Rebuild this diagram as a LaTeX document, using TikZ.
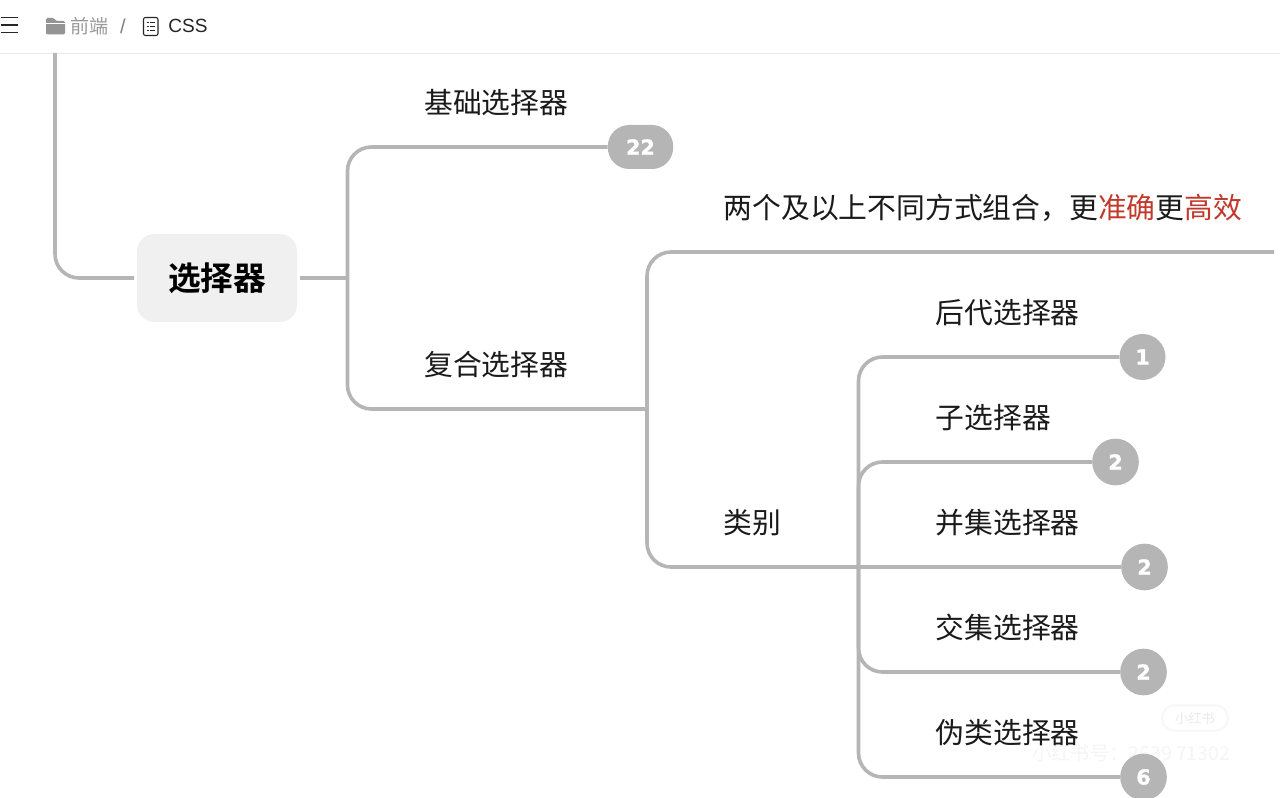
\documentclass[tikz,border=0pt]{standalone}
\usepackage{fontspec}
\setmainfont{Noto Sans CJK SC}
\newfontfamily\cjkbold{Noto Sans CJK SC Bold}
\newfontfamily\latinsans{Liberation Sans}
\newfontfamily\digitfont[FakeBold=1.5]{DejaVu Sans Bold}
\definecolor{linegray}{HTML}{B5B5B5}
\definecolor{accent}{HTML}{C0392B}
\definecolor{ink}{HTML}{1A1A1A}
\definecolor{soft}{HTML}{F0F0F0}
\tikzset{
  x=0.75pt,y=-0.75pt,
  branch/.style={draw=linegray,line width=2.7pt,rounded corners=18pt},
  label/.style={anchor=west,inner sep=0pt,text=ink,font=\fontsize{21.6}{24}\selectfont},
  badge/.style={circle,fill=linegray,text=white,inner sep=0pt,minimum size=35pt,font=\digitfont\fontsize{15.5}{18}\selectfont},
  pill/.style={rounded corners=16pt,fill=linegray,text=white,inner sep=0pt,minimum width=49pt,minimum height=33pt,font=\digitfont\fontsize{15.5}{18}\selectfont},
  rootnode/.style={fill=soft,rounded corners=13pt,inner sep=0pt,minimum width=120pt,minimum height=66pt,font=\cjkbold\fontsize{24.5}{26}\selectfont,text=black},
  iconline/.style={draw=black!85,line width=0.8pt},
  crumb/.style={anchor=west,inner sep=0pt},
  watermark/.style={text=black!4,inner sep=0pt}
}
\begin{document}
\begin{tikzpicture}
\useasboundingbox (0,0) rectangle (1280,798);
\clip (0,0) rectangle (1280,798);
\fill[white] (0,0) rectangle (1280,798);
% header
\draw[black!9,line width=0.75pt] (0,53.5) -- (1280,53.5);
\foreach \yy in {17.5,25,32.5} \draw[iconline] (1,\yy) -- (18,\yy);
\fill[black!42,rounded corners=1pt] (46,18) -- (54,18) -- (56,21) -- (65,21) -- (65,34.5) -- (46,34.5) -- cycle;
\draw[white,line width=0.6pt] (46,23.5) -- (65,23.5);
\node[crumb,text=black!40,font=\fontsize{14.3}{16}\selectfont] (folder) at (70,26) {前端};
\node[text=black!50,inner sep=0pt,font=\latinsans\fontsize{15}{16}\selectfont] (sep) at (123,26) {/};
\draw[iconline,rounded corners=1.5pt] (143.5,17.5) rectangle (158,35.5);
\foreach \yy in {22.5,26.5,30.5} {
  \fill[black!85] (147,\yy-0.8) rectangle (148.6,\yy+0.8);
  \fill[black!85] (150,\yy-0.6) rectangle (155,\yy+0.6);
}
\node[crumb,text=black!85,font=\latinsans\fontsize{14.3}{16}\selectfont] (css) at (168,25.5) {CSS};
% watermark
\node[draw=black!3,line width=1.5pt,rounded corners=9pt,minimum width=49pt,minimum height=19pt,inner sep=0pt,text=black!8,font=\fontsize{10}{11}\selectfont] (wm1) at (1195,718) {小红书};
\node[watermark,anchor=east,font=\fontsize{14.5}{16}\selectfont] (wm2) at (1230,753) {小红书号：2639 71302};
% nodes
\node[rootnode] (root) at (217,278) {选择器};
\node[pill] (b22) at (640.5,147) {22};
\node[badge,minimum size=34.5pt] (b1) at (1142.5,357) {1};
\node[badge] (b2) at (1115.5,462) {2};
\node[badge] (b3) at (1144.5,567) {2};
\node[badge] (b4) at (1143.5,672) {2};
\node[badge] (b5) at (1143.5,777) {6};
\coordinate (top) at (55,53);
\coordinate (j1) at (347.5,278);
\coordinate (j2) at (647,409);
\coordinate (j3) at (858.5,567);
\coordinate (far) at (1274,252);
% connectors
\draw[branch,shorten >=2pt] (top) |- (root.west);
\draw[branch,shorten <=2pt] (root.east) -- (j1);
\draw[branch] (j1) |- (b22.west);
\draw[branch] (j1) |- (j2);
\draw[branch] (j2) |- (far);
\draw[branch] (j2) |- (j3);
\draw[branch] (j3) |- (b1.west);
\draw[branch] (j3) |- (b2.west);
\draw[branch] (j3) -- (b3.west);
\draw[branch] (j3) |- (b4.west);
\draw[branch] (j3) |- (b5.west);
% labels
\node[label] (t1) at (424,102.5) {基础选择器};
\node[label] (t2) at (424,364.5) {复合选择器};
\node[label] (t3) at (723.5,207.5) {两个及以上不同方式组合，更\textcolor{accent}{准确}更\textcolor{accent}{高效}};
\node[label] (t4) at (723.5,522.5) {类别};
\node[label] (t5) at (935.5,312.5) {后代选择器};
\node[label] (t6) at (935.5,417.5) {子选择器};
\node[label] (t7) at (935.5,522.5) {并集选择器};
\node[label] (t8) at (935.5,627.5) {交集选择器};
\node[label] (t9) at (935.5,732.5) {伪类选择器};
\end{tikzpicture}
\end{document}
